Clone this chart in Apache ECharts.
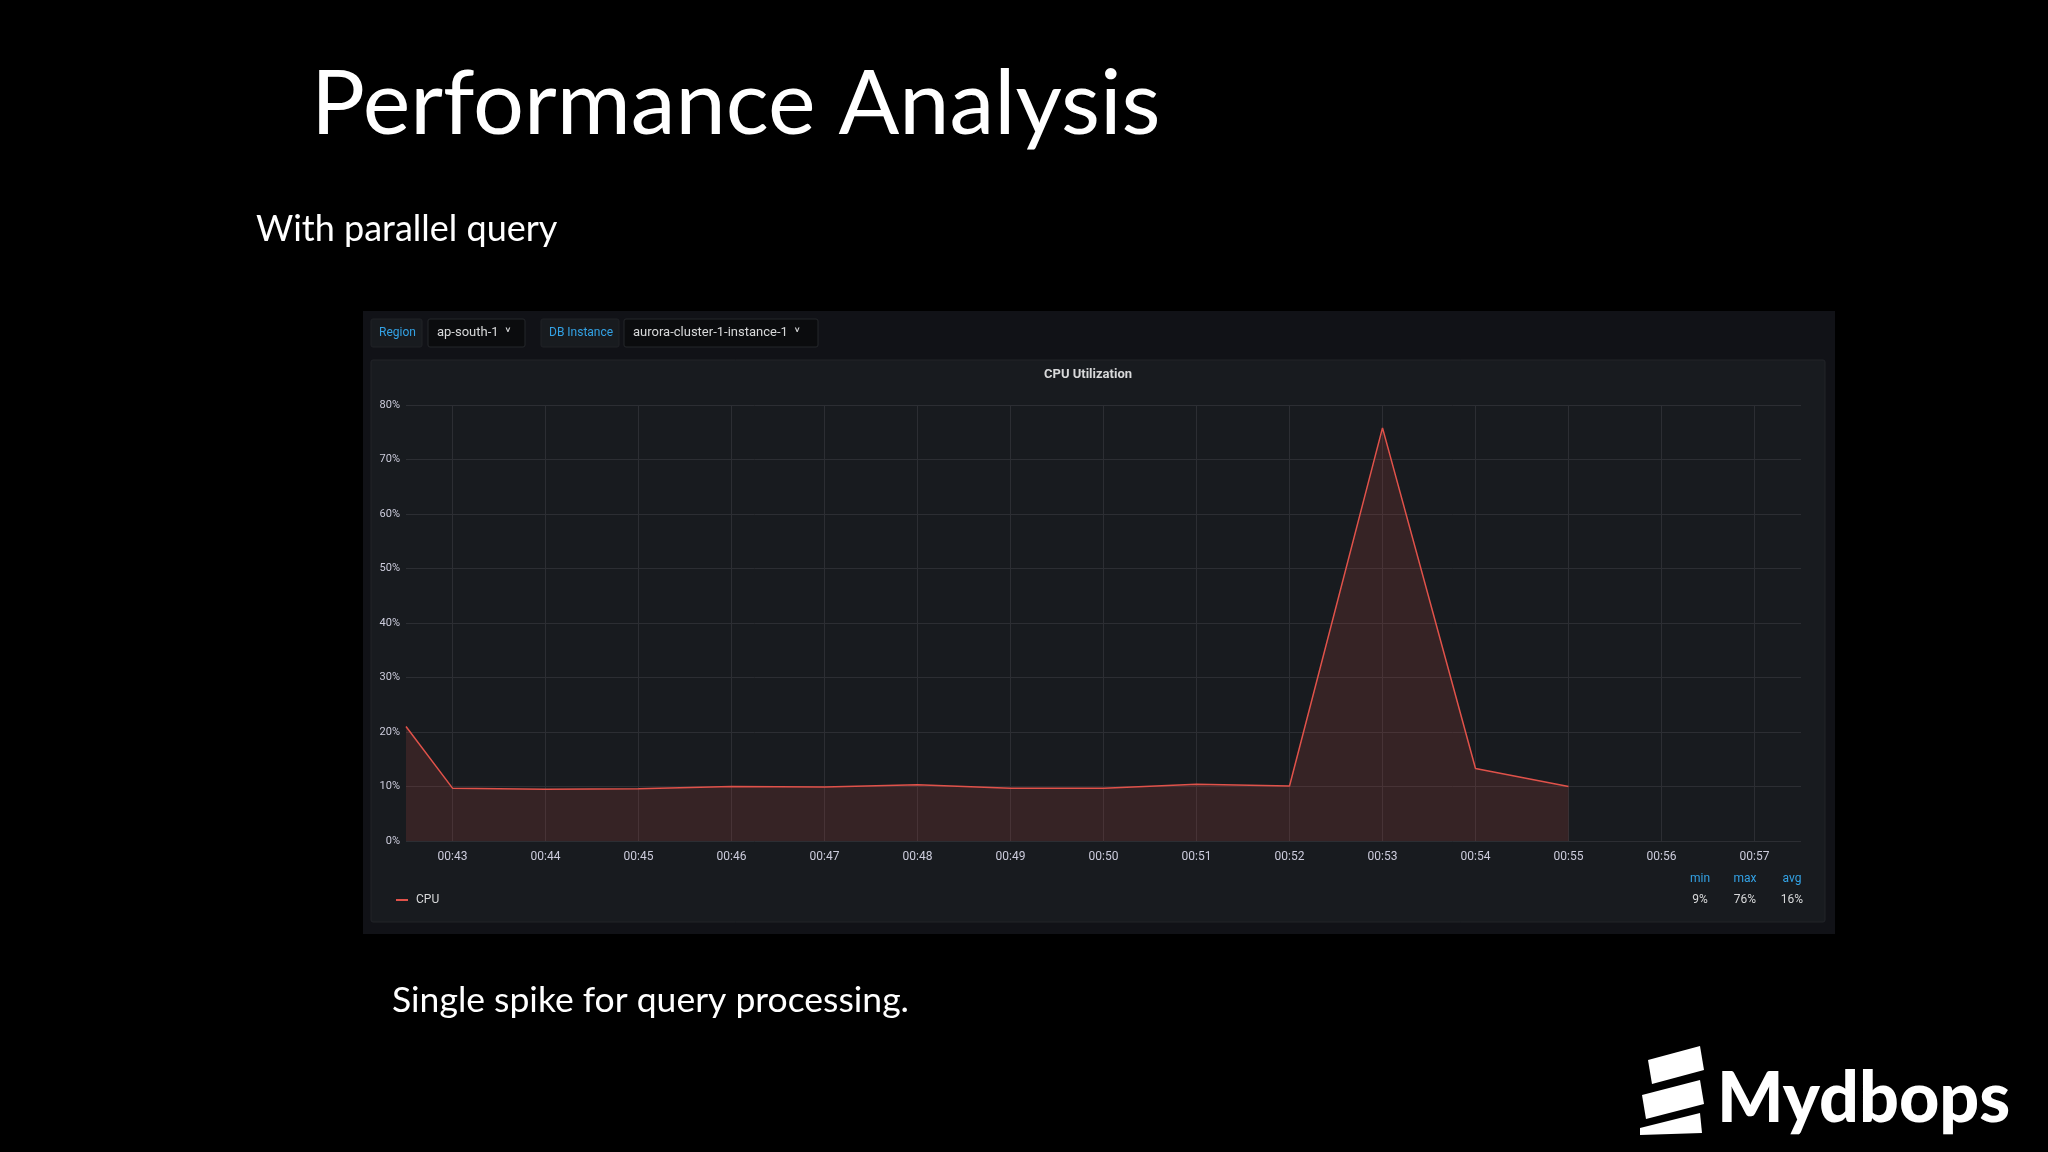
<!DOCTYPE html>
<html><head><meta charset="utf-8">
<script src="https://cdn.jsdelivr.net/npm/echarts@6/dist/echarts.min.js"></script>
<style>html,body{margin:0;background:#000;}#c{width:2048px;height:1152px;}</style>
</head><body><div id="c"></div>
<script>
const minutes = [42.5,43,44,45,46,47,48,49,50,51,52,53,54,55];
const cpu = [21,9.7,9.5,9.6,10,9.9,10.3,9.7,9.7,10.4,10.1,75.8,13.3,10];
const xTicks = [43,44,45,46,47,48,49,50,51,52,53,54,55,56,57];
const yTicks = [0,10,20,30,40,50,60,70,80];
const statHeads = ['min','max','avg'];
const statVals = ['9%','76%','16%'];

const chart = echarts.init(document.getElementById('c'));
const F = 'Lato, "Open Sans", sans-serif';
const UI = 'Roboto, Inter, sans-serif';
const g = [
  {type:'text',left:311,top:60,style:{text:'Performance Analysis',fill:'#fff',font:'400 90px '+F}},
  {type:'text',left:256,top:211,style:{text:'With parallel query',fill:'#fff',font:'400 36px '+F}},
  {type:'text',left:392,top:983,style:{text:'Single spike for query processing.',fill:'#fff',font:'400 35.5px '+F}},
  {type:'rect',shape:{x:363,y:311,width:1472,height:623},style:{fill:'#111217'},z:-2},
  {type:'rect',shape:{x:371,y:360,width:1454,height:562,r:2},style:{fill:'#181b1f',stroke:'#222429'},z:-1},
  {type:'rect',shape:{x:371,y:319,width:51,height:28,r:2},style:{fill:'#181b1f',stroke:'#202226'}},
  {type:'text',x:379,y:333,style:{text:'Region',fill:'#33a2e5',font:'12px '+UI,verticalAlign:'middle'}},
  {type:'rect',shape:{x:428,y:319,width:97,height:28,r:2},style:{fill:'#0b0c0e',stroke:'#25272b'}},
  {type:'text',x:437,y:333,style:{text:'ap-south-1  \u02c5',fill:'#d8d9da',font:'13px '+UI,verticalAlign:'middle'}},
  {type:'rect',shape:{x:541,y:319,width:78,height:28,r:2},style:{fill:'#181b1f',stroke:'#202226'}},
  {type:'text',x:549,y:333,style:{text:'DB Instance',fill:'#33a2e5',font:'12px '+UI,verticalAlign:'middle'}},
  {type:'rect',shape:{x:624,y:319,width:194,height:28,r:2},style:{fill:'#0b0c0e',stroke:'#25272b'}},
  {type:'text',x:633,y:333,style:{text:'aurora-cluster-1-instance-1  \u02c5',fill:'#d8d9da',font:'13px '+UI,verticalAlign:'middle'}},
  {type:'text',x:1088,y:375,style:{text:'CPU Utilization',fill:'#d8d9da',font:'bold 13px '+UI,align:'center',verticalAlign:'middle'}},
  {type:'line',shape:{x1:396,y1:900,x2:408,y2:900},style:{stroke:'#e0524a',lineWidth:2}},
  {type:'text',x:416,y:900,style:{text:'CPU',fill:'#d8d9da',font:'12px '+UI,verticalAlign:'middle'}},
  {type:'text',left:1717,top:1064,style:{text:'Mydbops',fill:'#fff',font:'900 70px '+F}},
  {type:'polygon',shape:{points:[[1648,1060],[1700,1046],[1704,1070],[1652,1084]]},style:{fill:'#fff'}},
  {type:'polygon',shape:{points:[[1642,1095],[1700,1080],[1704,1104],[1646,1119]]},style:{fill:'#fff'}},
  {type:'polygon',shape:{points:[[1640,1128],[1700,1113],[1702,1133],[1640,1135]]},style:{fill:'#fff'}}
];
const sx = [1700,1745,1792];
statHeads.forEach((h,i)=>{
  g.push({type:'text',x:sx[i],y:879,style:{text:h,fill:'#33a2e5',font:'12px '+UI,align:'center',verticalAlign:'middle'}});
  g.push({type:'text',x:sx[i],y:900,style:{text:statVals[i],fill:'#d8d9da',font:'12px '+UI,align:'center',verticalAlign:'middle'}});
});
chart.setOption({
  backgroundColor:'#000',
  animation:false,
  graphic:g,
  grid:{left:406,top:405,width:1395,height:436},
  xAxis:{type:'value',min:42.5,max:57.5,
    axisLine:{show:false},axisTick:{show:false},
    axisLabel:{color:'#ccccdc',fontSize:12,fontFamily:UI,margin:10,customValues:xTicks,
      formatter:v=>'00:'+v},
    splitLine:{show:false}},
  yAxis:{type:'value',min:0,max:80,interval:10,
    axisLine:{show:false},axisTick:{show:false},
    axisLabel:{color:'#ccccdc',fontSize:11,fontFamily:UI,margin:6,formatter:v=>yTicks.includes(v)?v+'%':''},
    splitLine:{lineStyle:{color:'#2c2e33',width:1}}},
  series:[{type:'line',data:minutes.map((m,i)=>[m,cpu[i]]),symbol:'none',
    lineStyle:{color:'#e0524a',width:1.5},areaStyle:{color:'rgba(224,82,74,0.22)'},
    markLine:{silent:true,symbol:'none',label:{show:false},z:0,
      lineStyle:{color:'#2c2e33',width:1,type:'solid'},
      data:xTicks.map(t=>({xAxis:t}))}}]
});
</script></body></html>
